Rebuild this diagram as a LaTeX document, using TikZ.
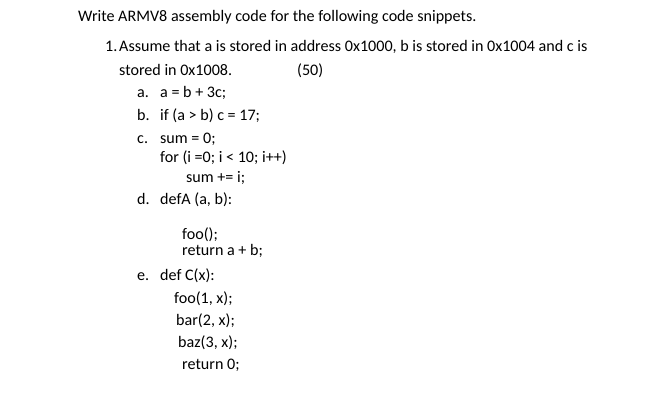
\documentclass[tikz,border=0pt]{standalone}
\usepackage{fontspec}
\setmainfont{Carlito}
\begin{document}
\begin{tikzpicture}[x=1pt,y=-1pt,t/.style={anchor=base west,inner sep=0pt,font=\fontsize{16.1}{18}\selectfont}]
\useasboundingbox[fill=white] (0,0) rectangle (648,404);
\node[t] (l1) at (78,22) {Write ARMV8 assembly code for the following code snippets.};
\node[t] (n1) at (105,52) {1.};
\node[t] (l2) at (119,52) {Assume that a is stored in address 0x1000, b is stored in 0x1004 and c is};
\node[t] (l3) at (119,75) {stored in 0x1008.};
\node[t] (l3b) at (297,75) {(50)};
\node[t] (a) at (137,97) {a.};
\node[t] (at) at (160,97) {a = b + 3c;};
\node[t] (b) at (137,120) {b.};
\node[t] (bt) at (160,120) {if (a > b) c = 17;};
\node[t] (c) at (137,143) {c.};
\node[t] (ct) at (160,143) {sum = 0;};
\node[t] (c2) at (160,162) {for (i =0; i < 10; i++)};
\node[t] (c3) at (186,182) {sum += i;};
\node[t] (d) at (137,204) {d.};
\node[t] (dt) at (160,204) {defA (a, b):};
\node[t] (d2) at (182,239) {foo();};
\node[t] (d3) at (182,255) {return a + b;};
\node[t] (e) at (137,280) {e.};
\node[t] (et) at (160,280) {def C(x):};
\node[t] (e2) at (174,303) {foo(1, x);};
\node[t] (e3) at (176,325) {bar(2, x);};
\node[t] (e4) at (178,347) {baz(3, x);};
\node[t] (e5) at (182,369) {return 0;};
\end{tikzpicture}
\end{document}
